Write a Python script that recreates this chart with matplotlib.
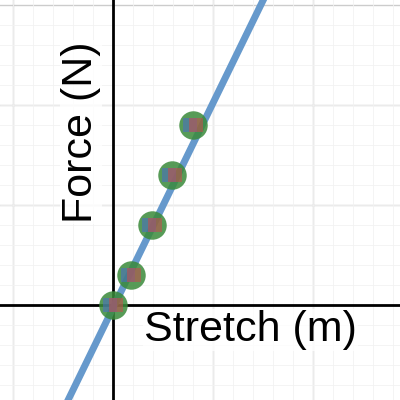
import matplotlib.pyplot as plt
import numpy as np

plt.rcParams['font.family'] = ['Liberation Sans', 'DejaVu Sans']

# data (grid units)
stretch = [0.0, 0.18, 0.39, 0.59, 0.80]
force = [0.0, 0.30, 0.80, 1.30, 1.80]
slope = 2.05
intercept = -0.03

fig = plt.figure(figsize=(4, 4), dpi=100)
ax = fig.add_axes([0, 0, 1, 1])
ax.set_xlim(-1.13, 2.87)
ax.set_ylim(-0.95, 3.05)

for g in [-1, 1, 2]:
    ax.axvline(g, color='#cccccc', lw=1, zorder=0)
for g in [1, 2, 3]:
    ax.axhline(g, color='#cccccc', lw=1, zorder=0)
for g in np.arange(-1, 3, 0.2):
    ax.axvline(g, color='#f2f2f2', lw=0.6, zorder=0)
    ax.axhline(g, color='#f2f2f2', lw=0.6, zorder=0)
ax.axvline(0, color='black', lw=2, zorder=1)
ax.axhline(0, color='black', lw=2, zorder=1)

xs = np.array([-1.2, 3.0])
ax.plot(xs, slope * xs + intercept, color='#6699cc', lw=5, zorder=2)

ax.scatter(stretch, force, s=420, color='#3a8a3a', alpha=0.85, zorder=3, lw=0)
ax.scatter(np.array(stretch) - 0.03, force, s=90, marker='s', color='#4a6fc0', alpha=0.6, zorder=4, lw=0)
ax.scatter(np.array(stretch) + 0.03, force, s=90, marker='s', color='#c0504d', alpha=0.6, zorder=4, lw=0)

ax.text(0.31, -0.05, 'Stretch (m)', fontsize=31, ha='left', va='top',
        bbox=dict(facecolor='white', edgecolor='none', pad=1, alpha=0.8), zorder=5)
ax.text(-0.12, 0.82, 'Force (N)', fontsize=31, ha='right', va='bottom', rotation=90,
        bbox=dict(facecolor='white', edgecolor='none', pad=1, alpha=0.8), zorder=5)

ax.set_xticks([])
ax.set_yticks([])
for s in ax.spines.values():
    s.set_visible(False)

fig.savefig('out.png', dpi=100)
